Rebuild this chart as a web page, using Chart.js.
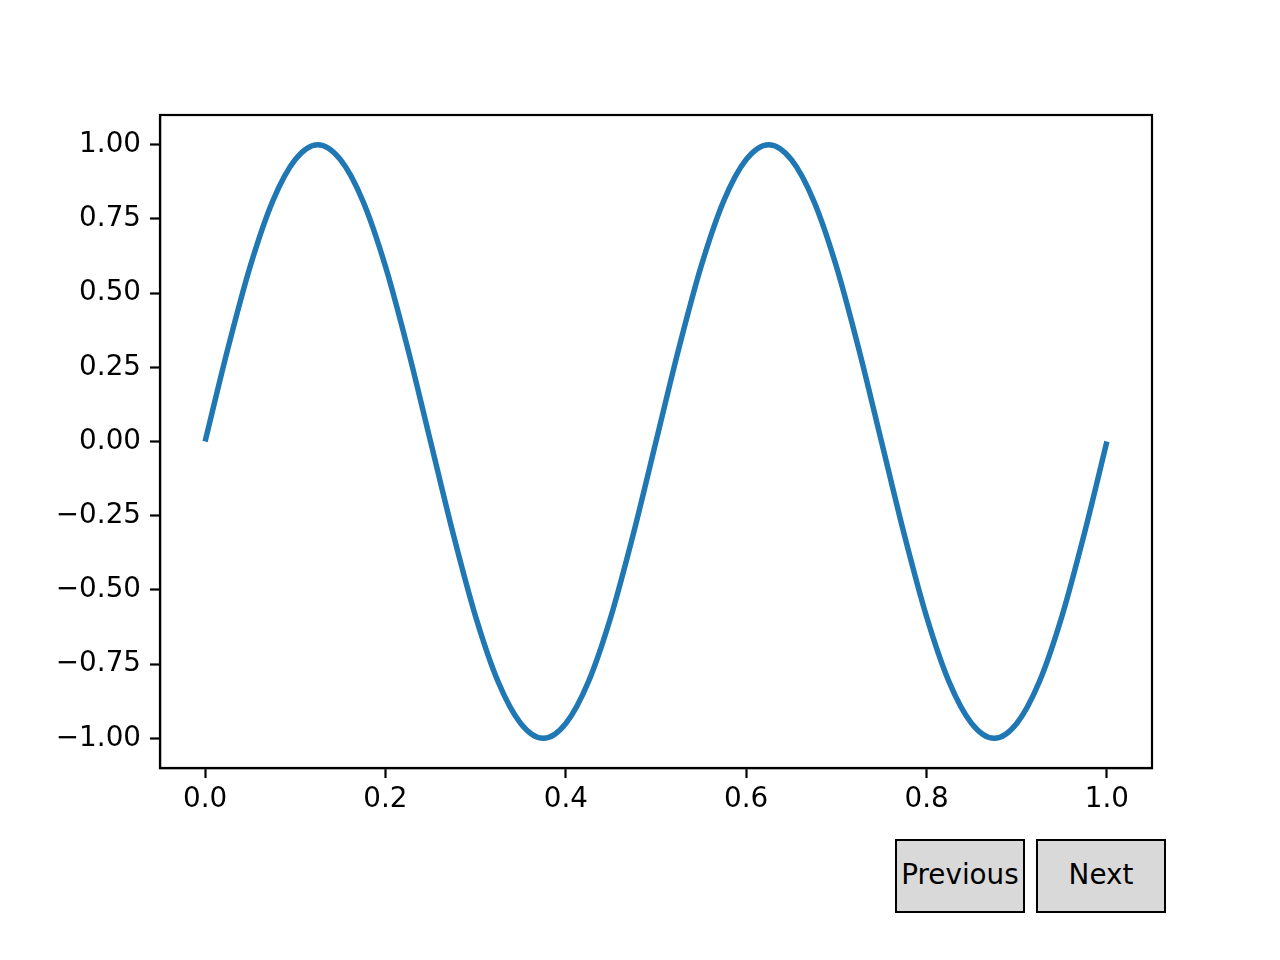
<!DOCTYPE html>
<html>
<head>
<meta charset="utf-8">
<script src="https://cdn.jsdelivr.net/npm/chart.js@4"></script>
<style>
    html, body { margin: 0; padding: 0; background: #fff; }
    #wrap { position: relative; width: 1280px; height: 960px; }
    canvas { position: absolute; left: 0; top: 0; }
    .btn {
        position: absolute;
        top: 839px;
        width: 130px;
        height: 74px;
        box-sizing: border-box;
        border: 2px solid #000;
        background: #d9d9d9;
        font-family: "DejaVu Sans", sans-serif;
        font-size: 27.8px;
        line-height: 68px;
        text-align: center;
        white-space: nowrap;
        overflow: visible;
    }
</style>
</head>
<body>
<div id="wrap">
    <canvas id="grafica" width="1280" height="960"></canvas>
    <div class="btn" style="left:895px">Previous</div>
    <div class="btn" style="left:1036px">Next</div>
</div>
<script>
// valores
let tiempos = [0.000, 0.025, 0.050, 0.075, 0.100, 0.125, 0.150, 0.175, 0.200, 0.225,
    0.250, 0.275, 0.300, 0.325, 0.350, 0.375, 0.400, 0.425, 0.450, 0.475,
    0.500, 0.525, 0.550, 0.575, 0.600, 0.625, 0.650, 0.675, 0.700, 0.725,
    0.750, 0.775, 0.800, 0.825, 0.850, 0.875, 0.900, 0.925, 0.950, 0.975, 1.000];
let senal = [0.00, 0.31, 0.59, 0.81, 0.95, 1.00, 0.95, 0.81, 0.59, 0.31,
    0.00, -0.31, -0.59, -0.81, -0.95, -1.00, -0.95, -0.81, -0.59, -0.31,
    0.00, 0.31, 0.59, 0.81, 0.95, 1.00, 0.95, 0.81, 0.59, 0.31,
    0.00, -0.31, -0.59, -0.81, -0.95, -1.00, -0.95, -0.81, -0.59, -0.31, 0.00];
let ticksX = [0.0, 0.2, 0.4, 0.6, 0.8, 1.0];
let ticksY = [-1.00, -0.75, -0.50, -0.25, 0.00, 0.25, 0.50, 0.75, 1.00];

const fuente = {family: "DejaVu Sans", size: 27.8};

// marco completo del area de la grafica
const marco = {
    id: 'marco',
    afterDraw(chart) {
        let {ctx, chartArea} = chart;
        ctx.save();
        ctx.strokeStyle = '#000';
        ctx.lineWidth = 2.2;
        ctx.strokeRect(chartArea.left, chartArea.top, chartArea.right - chartArea.left, chartArea.bottom - chartArea.top);
        ctx.restore();
    }
};

function formatoMenos(s) {
    return s.replace('-', '\u2212');
}

let chart = new Chart(document.getElementById('grafica').getContext('2d'), {
    type: 'line',
    data: {
        datasets: [{
            data: tiempos.map((t, i) => ({x: t, y: senal[i]})),
            borderColor: '#1f77b4',
            borderWidth: 5.4,
            pointRadius: 0,
            fill: false,
            cubicInterpolationMode: 'monotone',
        }]
    },
    plugins: [marco],
    options: {
        responsive: false,
        animation: false,
        devicePixelRatio: 1,
        layout: {padding: {top: 115, right: 128, left: 0, bottom: 0}},
        plugins: {legend: {display: false}, tooltip: {enabled: false}},
        scales: {
            x: {
                type: 'linear',
                min: -0.05,
                max: 1.05,
                afterBuildTicks: (axis) => { axis.ticks = ticksX.map(v => ({value: v})); },
                afterFit: (axis) => { axis.height = 192; },
                grid: {drawOnChartArea: false, drawTicks: true, tickLength: 10, tickColor: '#000', tickWidth: 2.2},
                border: {display: true, color: '#000', width: 2.2},
                ticks: {
                    color: '#000',
                    font: fuente,
                    padding: 5,
                    maxRotation: 0,
                    autoSkip: false,
                    callback: (v) => formatoMenos(Number(v).toFixed(1)),
                }
            },
            y: {
                type: 'linear',
                min: -1.1,
                max: 1.1,
                afterBuildTicks: (axis) => { axis.ticks = ticksY.map(v => ({value: v})); },
                afterFit: (axis) => { axis.width = 160; },
                grid: {drawOnChartArea: false, drawTicks: true, tickLength: 10, tickColor: '#000', tickWidth: 2.2},
                border: {display: true, color: '#000', width: 2.2},
                ticks: {
                    color: '#000',
                    font: fuente,
                    padding: 9,
                    autoSkip: false,
                    callback: (v) => formatoMenos(Number(v).toFixed(2)),
                }
            }
        }
    }
});
</script>
</body>
</html>
